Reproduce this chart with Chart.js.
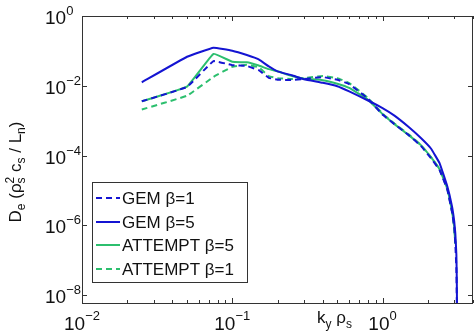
<!DOCTYPE html>
<html>
<head>
<meta charset="utf-8">
<script src="https://cdn.jsdelivr.net/npm/chart.js@4.4.1/dist/chart.umd.min.js"></script>
<style>
  html, body { margin: 0; padding: 0; background: #fff; }
  #wrap { width: 474px; height: 335px; }
</style>
</head>
<body>
<div id="wrap"><canvas id="chart" width="474" height="335"></canvas></div>
<script>
// k_y rho_s sample points (shared by all series)
const kyRho = [0.025, 0.05, 0.075, 0.1, 0.125, 0.15, 0.175, 0.2, 0.25, 0.3, 0.4, 0.5, 0.6, 0.8,
  1.0, 1.2, 1.5, 1.8, 2.1, 2.4, 2.7, 2.9, 3.0, 3.05, 3.1, 3.12, 3.14];

// D_e values
const gemBeta1 = [0.0036, 0.0093, 0.051, 0.039, 0.037, 0.028, 0.017, 0.015, 0.0147, 0.0156, 0.0178, 0.015, 0.0112, 0.0043,
  0.0015, 8e-4, 3.8e-4, 1.9e-4, 8.5e-5, 3.8e-5, 1.05e-5, 2.4e-6, 9e-7, 3e-7, 6e-8, 8e-9, 1e-9];
const gemBeta5 = [0.0126, 0.068, 0.124, 0.101, 0.076, 0.057, 0.036, 0.026, 0.020, 0.0154, 0.0122, 0.0097, 0.0069, 0.0038,
  0.0023, 0.0014, 6.5e-4, 3.2e-4, 1.6e-4, 6e-5, 1.3e-5, 3.5e-6, 1.3e-6, 6e-7, 1.5e-7, 3e-8, 1e-9];
const attemptBeta5 = [0.0036, 0.0095, 0.082, 0.049, 0.047, 0.038, 0.030, 0.026, 0.019, 0.016, 0.0145, 0.0115, 0.0087, 0.0040,
  0.00155, 8e-4, 3.8e-4, 2e-4, 9e-5, 4e-5, 1.1e-5, 2.5e-6, 9e-7, 3e-7, null, null, null];
const attemptBeta1 = [0.0021, 0.0052, 0.018, 0.035, 0.040, 0.034, 0.019, 0.0166, 0.0156, 0.0166, 0.019, 0.0166, 0.012, 0.0045,
  0.0016, 8.3e-4, 4e-4, 2e-4, 9e-5, 4e-5, 1.1e-5, 2.6e-6, 9e-7, 3e-7, null, null, null];

const seriesNames = ["GEM \u03b2=1", "GEM \u03b2=5", "ATTEMPT \u03b2=5", "ATTEMPT \u03b2=1"];
const xTickExps = [-2, -1, 0];
const yTickExps = [0, -2, -4, -6, -8];

const BLUE = "#1414d2";
const GREEN = "#2cbf6e";
const FONT = "'Liberation Sans', Arial, sans-serif";

function pts(vals) {
  return kyRho.map((k, i) => ({ x: k, y: vals[i] }));
}

// draw a run of text pieces; each piece: [text, size, dy, advance?]
function drawRich(ctx, pieces, x, y) {
  let cx = x;
  for (const p of pieces) {
    ctx.font = p[1] + "px " + FONT;
    ctx.fillText(p[0], cx, y + p[2]);
    if (p[3] !== false) cx += ctx.measureText(p[0]).width;
  }
  return cx - x;
}
function richWidth(ctx, pieces) {
  let w = 0;
  for (const p of pieces) {
    ctx.font = p[1] + "px " + FONT;
    if (p[3] !== false) w += ctx.measureText(p[0]).width;
  }
  return w;
}

const decor = {
  id: "decor",
  afterDatasetsDraw(chart) {
    const ctx = chart.ctx;
    const a = chart.chartArea;
    const xs = chart.scales.x, ys = chart.scales.y;
    ctx.save();
    ctx.strokeStyle = "#333";
    ctx.lineWidth = 1;

    // x ticks (major + minor), bottom and top, pointing inward
    ctx.beginPath();
    for (let e = -2; e <= 0; e++) {
      for (let m = 1; m <= 9; m++) {
        const v = m * Math.pow(10, e);
        if (v > xs.max) break;
        const px = Math.round(xs.getPixelForValue(v)) + 0.5;
        const len = m === 1 ? 5 : 3;
        ctx.moveTo(px, a.bottom); ctx.lineTo(px, a.bottom - len);
        ctx.moveTo(px, a.top); ctx.lineTo(px, a.top + len);
      }
    }
    // y ticks, left and right
    for (const e of yTickExps) {
      const py = Math.round(ys.getPixelForValue(Math.pow(10, e))) + 0.5;
      ctx.moveTo(a.left, py); ctx.lineTo(a.left + 5, py);
      ctx.moveTo(a.right, py); ctx.lineTo(a.right - 5, py);
    }
    ctx.stroke();

    // frame
    ctx.strokeRect(a.left + 0.5, a.top + 0.5, a.right - a.left - 1, a.bottom - a.top);

    ctx.fillStyle = "#111";
    ctx.textBaseline = "alphabetic";
    ctx.textAlign = "left";

    // x tick labels
    for (const e of xTickExps) {
      const px = xs.getPixelForValue(Math.pow(10, e));
      const pieces = [["10", 19, 0], [String(e).replace("-", "\u2212"), 13, -10]];
      const w = richWidth(ctx, pieces);
      drawRich(ctx, pieces, px - w / 2, 330);
    }
    // y tick labels
    for (const e of yTickExps) {
      const py = ys.getPixelForValue(Math.pow(10, e));
      drawRich(ctx, [["10", 19, 0], [String(e).replace("-", "\u2212"), 13, -9]], 45, py + 8);
    }

    // x axis title
    drawRich(ctx, [["k", 17, 0], ["y", 12, 5], [" \u03c1", 17, 0], ["s", 12, 5]], 317, 323);

    // y axis title (rotated)
    ctx.save();
    ctx.translate(21, 0);
    ctx.rotate(-Math.PI / 2);
    const yl = [["D", 17, 0], ["e", 12, 4], [" (\u03c1", 17, 0], ["s", 12, 4, false], ["2", 12, -7],
      [" c", 17, 0], ["s", 12, 4], [" / L", 17, 0], ["n", 12, 4], [")", 17, 0]];
    const wl = richWidth(ctx, yl);
    drawRich(ctx, yl, -172 - wl / 2, 0);
    ctx.restore();

    // legend box
    const lx = 92, ly = 182, lw = 155, lh = 100;
    ctx.fillStyle = "#fff";
    ctx.fillRect(lx, ly, lw, lh);
    ctx.strokeStyle = "#333";
    ctx.strokeRect(lx + 0.5, ly + 0.5, lw, lh);
    const rowY = [198, 222, 245, 269];
    chart.data.datasets.forEach((ds, i) => {
      ctx.strokeStyle = ds.borderColor;
      ctx.lineWidth = 2;
      ctx.setLineDash(ds.borderDash || []);
      ctx.beginPath();
      ctx.moveTo(96, rowY[i]); ctx.lineTo(120, rowY[i]);
      ctx.stroke();
      ctx.setLineDash([]);
      ctx.fillStyle = "#111";
      ctx.font = "17px " + FONT;
      ctx.textBaseline = "middle";
      ctx.fillText(ds.label, 122, rowY[i] + 1);
    });
    ctx.restore();
  }
};

new Chart(document.getElementById("chart"), {
  type: "line",
  data: {
    datasets: [
      { label: seriesNames[0], data: pts(gemBeta1), borderColor: BLUE, borderDash: [6, 4], borderWidth: 2 },
      { label: seriesNames[1], data: pts(gemBeta5), borderColor: BLUE, borderWidth: 2 },
      { label: seriesNames[2], data: pts(attemptBeta5), borderColor: GREEN, borderWidth: 2 },
      { label: seriesNames[3], data: pts(attemptBeta1), borderColor: GREEN, borderDash: [6, 4], borderWidth: 2 }
    ]
  },
  options: {
    responsive: false,
    animation: false,
    devicePixelRatio: 1,
    layout: { padding: { left: 82, top: 16, right: 1, bottom: 32 } },
    elements: { point: { radius: 0 }, line: { tension: 0.08, fill: false } },
    plugins: { legend: { display: false }, tooltip: { enabled: false } },
    scales: {
      x: { type: "logarithmic", min: 0.01, max: 4, display: false },
      y: { type: "logarithmic", min: 6e-9, max: 1, display: false }
    }
  },
  plugins: [decor]
});
</script>
</body>
</html>
